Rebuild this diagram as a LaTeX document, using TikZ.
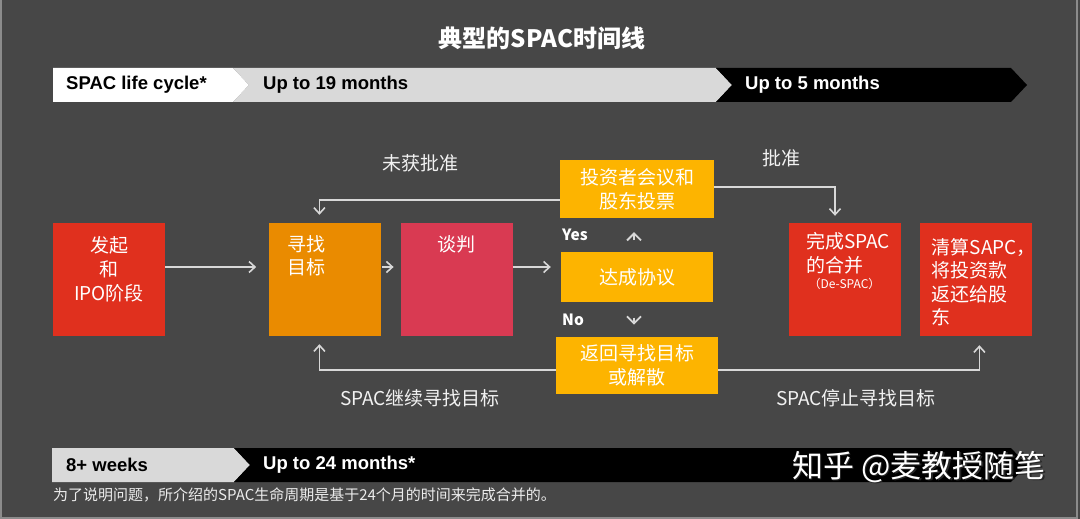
\documentclass[tikz,border=0pt]{standalone}
\usepackage{xcolor}
\usepackage{fontspec}
\setmainfont{Noto Sans CJK SC}
\newfontfamily\barfont{Liberation Sans}
\usepackage{tikz}
\usetikzlibrary{calc,positioning,arrows.meta}

\definecolor{bgGrey}{HTML}{474747}
\definecolor{frameGrey}{HTML}{8C8C8C}
\definecolor{barGrey}{HTML}{D9D9D9}
\definecolor{lineGrey}{HTML}{D8D8D8}
\definecolor{pwcRed}{HTML}{E0301E}
\definecolor{pwcOrange}{HTML}{EA8B00}
\definecolor{pwcRose}{HTML}{D93A52}
\definecolor{pwcYellow}{HTML}{FDB400}

\begin{document}
\begin{tikzpicture}[x=1pt, y=-1pt, node distance = 19pt,
  txt/.style = {text=white, font=\fontsize{19}{24}\selectfont, inner sep=0pt},
  tall/.style = {fill=#1, minimum width=112pt, minimum height=113pt, inner sep=0pt},
  flat/.style args = {#1,#2}{fill=pwcYellow, minimum width=#1, minimum height=#2, inner sep=0pt, text=white, align=center, font=\fontsize{19}{24}\selectfont},
  arr/.style = {draw=lineGrey, line width=1.6pt, -{Straight Barb[length=6pt, width=11pt]}},
  chev/.style = {draw=lineGrey, line width=1.8pt, -{Straight Barb[length=7pt, width=14pt]}},
  bar/.style = {font=\barfont\bfseries\fontsize{18.5}{20}\selectfont, anchor=west, inner sep=0pt},
  lbl/.style = {text=white!90!gray, font=\fontsize{19}{24}\selectfont, inner sep=0pt},
  yn/.style = {text=white, font=\bfseries\fontsize{15.5}{18}\selectfont, anchor=west, inner sep=0pt},
  wmark/.style = {font=\fontsize{31}{34}\selectfont, inner sep=0pt}]
\useasboundingbox (0,0) rectangle (1080,519);
\fill[bgGrey] (0,0) rectangle (1080,519);
\draw[frameGrey, line width=2pt] (1,-5) -- (1,517.5) -- (1077,517.5) -- (1077,-5);

% title and top bar
\node[text=white, font=\bfseries\fontsize{24}{28}\selectfont] (title) at (542,38) {典型的SPAC时间线};
\fill[white] (53,68) -- (233,68) -- (249,85) -- (233,102) -- (53,102) -- cycle;
\fill[barGrey] (233,68) -- (716,68) -- (732,85) -- (716,102) -- (233,102) -- (249,85) -- cycle;
\fill[black] (716,68) -- (1011,68) -- (1027,85) -- (1011,102) -- (716,102) -- (732,85) -- cycle;
\node[bar] (cycleTxt) at (66,85) {SPAC life cycle*};
\node[bar] (upNineteen) at (263,85) {Up to 19 months};
\node[bar, text=white] (upFive) at (745,85) {Up to 5 months};

% boxes
\node[tall=pwcRed, label={[txt, align=center, anchor=north, yshift=-13pt]north:{发起\\和\\IPO阶段}}] (launch) at (109,279.5) {};
\node[tall=pwcOrange, right=104pt of launch, label={[txt, font=\fontsize{19}{23}\selectfont, align=left, anchor=north west, xshift=18pt, yshift=-13pt]north west:{寻找\\目标}}] (search) {};
\node[tall=pwcRose, right=of search, label={[txt, anchor=north, yshift=-13pt]north:谈判}] (talks) {};
\node[flat={154pt,58pt}] (vote) at (637,189) {投资者会议和\\股东投票};
\node[flat={152pt,50pt}, below=34pt of vote] (agree) {达成协议};
\node[flat={162pt,57pt}, below=34pt of agree] (back) {返回寻找目标\\或解散};
\node[tall=pwcRed, label={[txt, align=left, text width=77pt, anchor=north west, xshift=17pt, yshift=-9pt]north west:{完成SPAC\\的合并\\[-8pt]\hspace*{\fill}{\fontsize{12}{14}\selectfont （De-SPAC）}\hspace*{\fill}}}] (deSpac) at (845,279.5) {};
\node[tall=pwcRed, right=of deSpac, label={[txt, font=\fontsize{19}{23.5}\selectfont, align=left, anchor=north west, xshift=11.5pt, yshift=-15pt]north west:{清算SAPC，\\将投资款\\返还给股\\东}}] (liquid) {};

% connectors
\coordinate (lvl) at (0,267);
\draw[arr, shorten >=13pt] (launch.east |- lvl) -- (search.west |- lvl);
\draw[arr, shorten >=7pt] (search.east |- lvl) -- (talks.west |- lvl);
\draw[arr, shorten >=10pt] (talks.east |- lvl) -- (agree.west |- lvl);
\draw[arr, shorten >=8pt] ([yshift=-11pt]vote.west) -| ([xshift=-6pt]search.north);
\draw[arr, shorten >=7pt] ([yshift=2pt]vote.east) -| ([xshift=-10pt]deSpac.north);
\draw[arr, shorten >=8pt] ([yshift=-4.5pt]back.west) -| ([xshift=-6pt]search.south);
\draw[arr, shorten >=9pt] ([yshift=-4.5pt]back.east) -| ([xshift=3pt]liquid.south);
\draw[chev, shorten <=12pt, shorten >=14pt] ([xshift=-3pt]vote.south |- agree.north) -- ([xshift=-3pt]vote.south);
\draw[chev, shorten <=15pt, shorten >=12pt] ([xshift=-3pt]agree.south) -- ([xshift=-3pt]agree.south |- back.north);

% labels
\node[lbl] (noApprove) at (420,163) {未获批准};
\node[lbl] (approve) at (781,158) {批准};
\node[lbl] (keepLbl) at (420,398) {SPAC继续寻找目标};
\node[lbl] (stopLbl) at (856,398) {SPAC停止寻找目标};
\node[yn] (yesTxt) at (562,235) {Yes};
\node[yn] (noTxt) at (562,320) {No};

% bottom bar
\fill[barGrey] (52,448) -- (234,448) -- (250,465) -- (234,482) -- (52,482) -- cycle;
\fill[black] (234,448) -- (1011,448) -- (1027,465) -- (1011,482) -- (234,482) -- (250,465) -- cycle;
\node[bar] (eightWk) at (66,465) {8+ weeks};
\node[bar, text=white] (upTwentyFour) at (263,465) {Up to 24 months*};
\node[anchor=west, inner sep=0pt, text=white!85!gray, font=\fontsize{15}{18}\selectfont] (footNote) at (53,495) {为了说明问题，所介绍的SPAC生命周期是基于24个月的时间来完成合并的。};
\node[wmark, text=black!85] (zhihuShade) at (920.5,468.5) {知乎 @麦教授随笔};
\node[wmark, text=white] (zhihu) at (919,467) {知乎 @麦教授随笔};
\end{tikzpicture}
\end{document}
